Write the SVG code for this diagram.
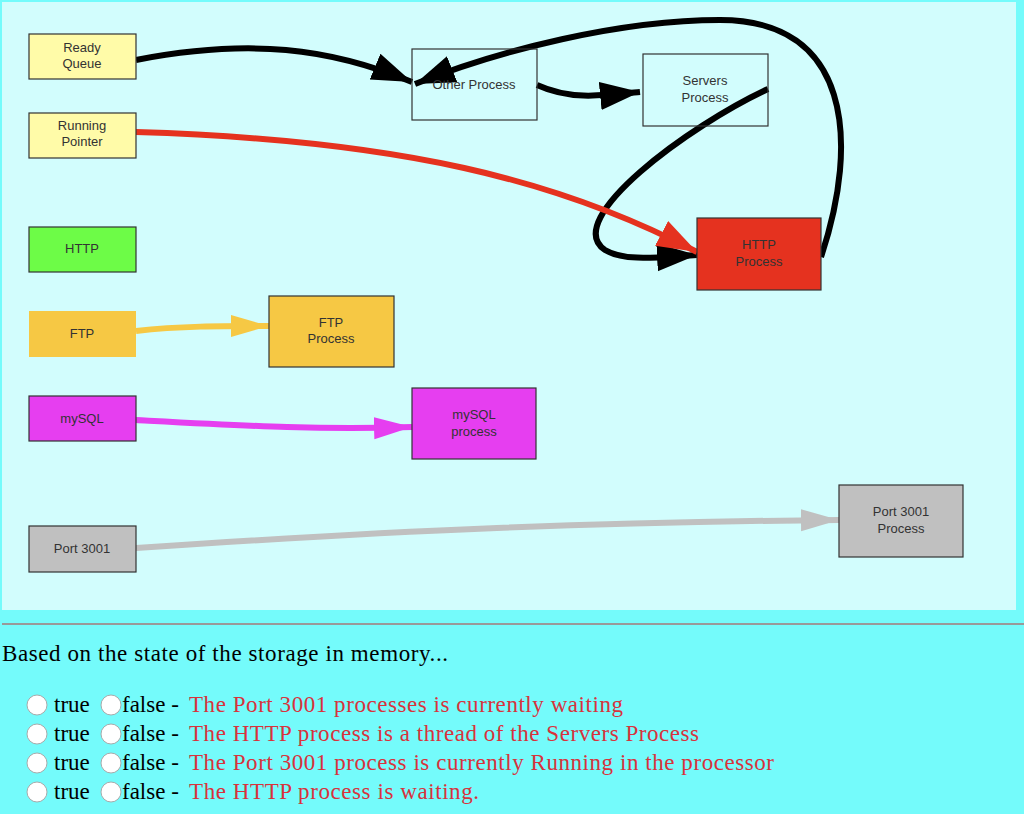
<svg xmlns="http://www.w3.org/2000/svg" width="1024" height="814" viewBox="0 0 1024 814">
<style>
.n{stroke:#333;stroke-width:1.2}
.t{font-family:"Liberation Sans",Arial,sans-serif;font-size:13px;fill:#333;text-anchor:middle}
.c{fill:none;stroke-width:6}
.q{font-family:"Liberation Serif","Times New Roman",serif;font-size:23px}
.r{fill:#fff;stroke:#aaa;stroke-width:1}
</style>
<defs>
<marker id="ab" markerUnits="userSpaceOnUse" markerWidth="44" markerHeight="32" refX="40" refY="14" orient="auto"><path d="M0,0 L40,14 L0,28 z" fill="#000"/></marker>
<marker id="ar" markerUnits="userSpaceOnUse" markerWidth="44" markerHeight="32" refX="40" refY="14" orient="auto"><path d="M0,0 L40,14 L0,28 z" fill="#e5321f"/></marker>
<marker id="ay" markerUnits="userSpaceOnUse" markerWidth="40" markerHeight="30" refX="38" refY="11" orient="auto"><path d="M0,0 L38,11 L0,22 z" fill="#f6c844"/></marker>
<marker id="am" markerUnits="userSpaceOnUse" markerWidth="40" markerHeight="30" refX="38" refY="11" orient="auto"><path d="M0,0 L38,11 L0,22 z" fill="#e63ef0"/></marker>
<marker id="ag" markerUnits="userSpaceOnUse" markerWidth="40" markerHeight="30" refX="38" refY="11" orient="auto"><path d="M0,0 L38,11 L0,22 z" fill="#c0c0c0"/></marker>
</defs>
<rect width="1024" height="814" fill="#74fbfb"/>
<rect x="2" y="2" width="1014" height="608" fill="#d2fdfd"/>
<line x1="2" y1="624" x2="1024" y2="624" stroke="#999" stroke-width="2"/>
<g id="connectors">
<path class="c" stroke="#000" d="M136,60 C250,38 330,48 412,82" marker-end="url(#ab)"/>
<path class="c" stroke="#000" d="M537,85 C570,100 600,96 640,92" marker-end="url(#ab)"/>
<path class="c" stroke="#000" d="M768,89 C690,125 560,220 605,250 C625,262 660,257 697,255" marker-end="url(#ab)"/>
<path class="c" stroke="#000" d="M821,257 C860,140 850,20 720,20 C620,20 500,50 415,84" marker-end="url(#ab)"/>
<path class="c" stroke="#e5321f" d="M136,132 C400,140 560,180 697,252" marker-end="url(#ar)"/>
<path class="c" stroke="#f6c844" d="M136,331 C180,326 220,326 269,326" marker-end="url(#ay)"/>
<path class="c" stroke="#e63ef0" d="M136,420 C250,426 320,430 412,427" marker-end="url(#am)"/>
<path class="c" stroke="#c0c0c0" d="M136,548 C400,530 600,522 839,520" marker-end="url(#ag)"/>
</g>
<g id="ready"><rect class="n" x="29" y="34" width="107" height="45" fill="#fffba8"/><text class="t" x="82" y="52">Ready</text><text class="t" x="82" y="68">Queue</text></g>
<g id="running"><rect class="n" x="29" y="113" width="107" height="45" fill="#fffba8"/><text class="t" x="82" y="130">Running</text><text class="t" x="82" y="146">Pointer</text></g>
<g id="http"><rect class="n" x="29" y="227" width="107" height="45" fill="#6dfc47"/><text class="t" x="82" y="253">HTTP</text></g>
<g id="ftp"><rect x="29" y="311" width="107" height="46" fill="#f6c844"/><text class="t" x="82" y="338">FTP</text></g>
<g id="mysql"><rect class="n" x="29" y="396" width="107" height="45" fill="#e63ef0"/><text class="t" x="82" y="423">mySQL</text></g>
<g id="port"><rect class="n" x="29" y="526" width="107" height="46" fill="#c0c0c0"/><text class="t" x="82" y="553">Port 3001</text></g>
<g id="other"><rect class="n" x="412" y="49" width="125" height="71" fill="none"/><text class="t" x="474" y="89">Other Process</text></g>
<g id="servers"><rect class="n" x="643" y="54" width="125" height="72" fill="none"/><text class="t" x="705" y="85">Servers</text><text class="t" x="705" y="102">Process</text></g>
<g id="httpp"><rect class="n" x="697" y="218" width="124" height="72" fill="#e5321f"/><text class="t" x="759" y="249">HTTP</text><text class="t" x="759" y="266">Process</text></g>
<g id="ftpp"><rect class="n" x="269" y="296" width="125" height="71" fill="#f6c844"/><text class="t" x="331" y="327">FTP</text><text class="t" x="331" y="343">Process</text></g>
<g id="mysqlp"><rect class="n" x="412" y="388" width="124" height="71" fill="#e63ef0"/><text class="t" x="474" y="419">mySQL</text><text class="t" x="474" y="436">process</text></g>
<g id="portp"><rect class="n" x="839" y="485" width="124" height="72" fill="#c0c0c0"/><text class="t" x="901" y="516">Port 3001</text><text class="t" x="901" y="533">Process</text></g>
<text class="q" x="2" y="661" fill="#000" textLength="446">Based on the state of the storage in memory...</text>
<g class="q">
<circle class="r" cx="37" cy="705" r="10"/><circle class="r" cx="111" cy="705" r="10"/>
<text x="54" y="712" fill="#000">true</text><text x="122" y="712" fill="#000">false -</text><text x="189" y="712" fill="#d8323c" textLength="434">The Port 3001 processes is currently waiting</text>
<circle class="r" cx="37" cy="734" r="10"/><circle class="r" cx="111" cy="734" r="10"/>
<text x="54" y="741" fill="#000">true</text><text x="122" y="741" fill="#000">false -</text><text x="189" y="741" fill="#d8323c" textLength="510">The HTTP process is a thread of the Servers Process</text>
<circle class="r" cx="37" cy="763" r="10"/><circle class="r" cx="111" cy="763" r="10"/>
<text x="54" y="770" fill="#000">true</text><text x="122" y="770" fill="#000">false -</text><text x="189" y="770" fill="#d8323c" textLength="585">The Port 3001 process is currently Running in the processor</text>
<circle class="r" cx="37" cy="792" r="10"/><circle class="r" cx="111" cy="792" r="10"/>
<text x="54" y="799" fill="#000">true</text><text x="122" y="799" fill="#000">false -</text><text x="189" y="799" fill="#d8323c" textLength="290">The HTTP process is waiting.</text>
</g>
</svg>
